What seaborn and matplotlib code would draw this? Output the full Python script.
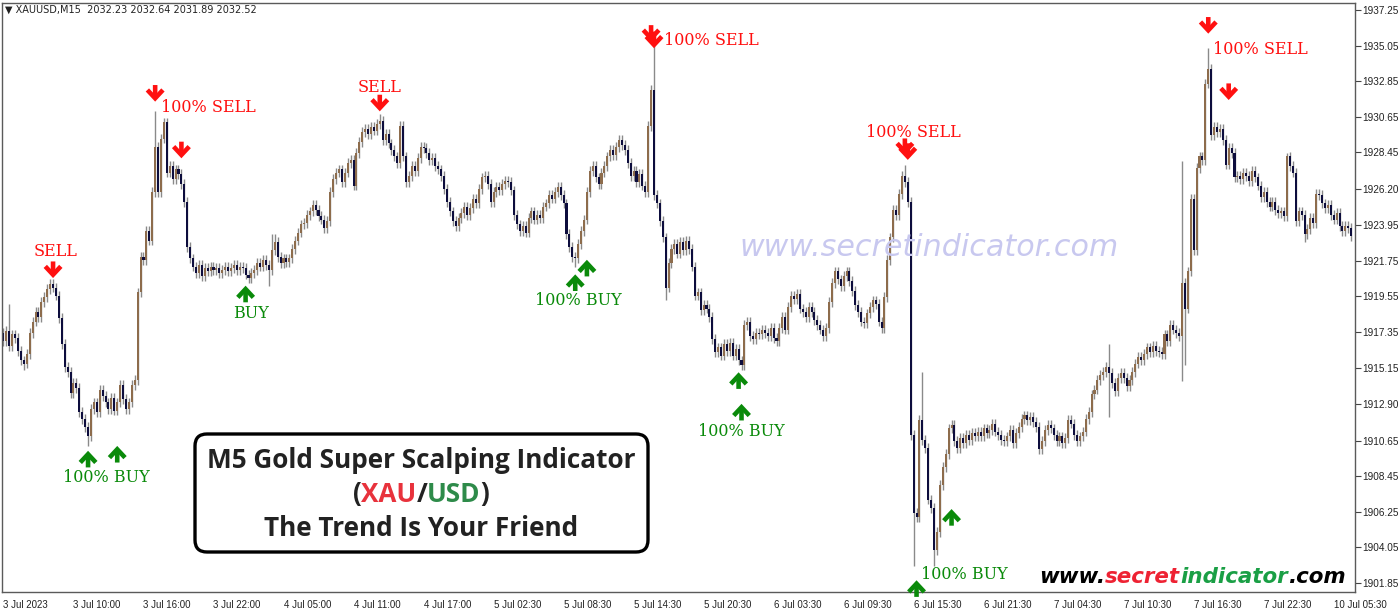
import matplotlib
matplotlib.use("Agg")
import matplotlib.pyplot as plt
import seaborn as sns
import pandas as pd
from matplotlib.patches import FancyBboxPatch
from matplotlib.offsetbox import TextArea, HPacker, AnchoredOffsetbox

# ---- data ----
first_open = 1917.3
closes = [
    1916.8, 1917.4, 1916.5, 1917.2, 1917.0, 1916.2, 1915.6, 1915.4, 1916.0, 1917.3,
    1918.0, 1918.6, 1918.3, 1919.2, 1919.5, 1920.0, 1920.3, 1920.1, 1919.6, 1918.2,
    1916.6, 1915.2, 1914.9, 1913.6, 1914.2, 1913.9, 1912.4, 1912.0, 1911.5, 1910.9,
    1912.6, 1913.0, 1912.4, 1913.8, 1913.4, 1913.0, 1912.6, 1913.3, 1912.5, 1913.0,
    1914.1, 1913.2, 1912.6, 1913.0, 1914.1, 1914.4, 1919.8, 1922.0, 1921.8, 1923.6,
    1923.0, 1926.0, 1928.8, 1926.0, 1929.3, 1930.3, 1927.2, 1927.6, 1926.8, 1927.4,
    1927.1, 1926.5, 1925.4, 1922.6, 1921.9, 1921.4, 1921.0, 1921.5, 1920.8, 1921.3,
    1921.1, 1921.4, 1921.2, 1921.3, 1921.0, 1921.2, 1921.4, 1921.1, 1921.3, 1921.5,
    1921.2, 1921.4, 1921.3, 1920.9, 1920.7, 1921.0, 1921.2, 1921.6, 1921.4, 1921.8,
    1921.5, 1921.2, 1922.4, 1922.9, 1922.0, 1921.6, 1921.9, 1921.7, 1921.9, 1922.5,
    1923.0, 1923.5, 1924.0, 1924.1, 1924.6, 1924.8, 1925.2, 1924.9, 1924.5, 1924.3,
    1923.8, 1924.2, 1926.0, 1926.8, 1927.2, 1927.4, 1926.6, 1927.2, 1927.8, 1928.0,
    1926.4, 1928.4, 1929.1, 1929.7, 1929.9, 1929.6, 1930.0, 1929.8, 1930.2, 1930.4,
    1929.2, 1929.6, 1929.0, 1928.6, 1928.2, 1927.8, 1930.1, 1928.2, 1926.6, 1927.0,
    1927.6, 1927.3, 1928.1, 1928.8, 1928.7, 1928.4, 1928.0, 1928.1, 1927.6, 1927.4,
    1927.0, 1926.2, 1925.4, 1924.8, 1924.2, 1923.9, 1924.4, 1924.7, 1925.1, 1924.6,
    1925.0, 1925.6, 1925.3, 1926.2, 1926.9, 1927.0, 1926.5, 1925.4, 1926.0, 1926.3,
    1926.1, 1926.5, 1926.7, 1926.6, 1926.1, 1924.6, 1924.0, 1923.6, 1923.9, 1923.5,
    1924.4, 1924.8, 1924.3, 1924.6, 1924.4, 1925.1, 1925.3, 1925.8, 1925.6, 1926.0,
    1926.3, 1925.8, 1925.3, 1923.4, 1922.6, 1922.0, 1921.9, 1922.8, 1923.6, 1924.3,
    1926.0, 1927.3, 1927.6, 1926.9, 1926.5, 1927.2, 1927.6, 1928.2, 1928.6, 1928.3,
    1928.8, 1929.2, 1928.9, 1928.6, 1927.8, 1927.0, 1927.3, 1926.6, 1927.1, 1926.4,
    1926.0, 1930.1, 1932.3, 1925.8, 1925.3, 1924.2, 1923.2, 1920.1, 1921.6, 1922.5,
    1922.8, 1922.2, 1922.9, 1922.4, 1923.0, 1922.5, 1921.4, 1919.6, 1919.8, 1918.7,
    1919.0, 1918.8, 1918.3, 1916.9, 1916.1, 1916.4, 1915.9, 1916.6, 1916.2, 1916.7,
    1915.9, 1916.3, 1915.6, 1915.3, 1917.8, 1918.0, 1917.1, 1916.9, 1917.3, 1917.2,
    1917.5, 1917.3, 1917.1, 1917.6, 1917.0, 1916.8, 1917.6, 1918.3, 1917.5, 1918.9,
    1919.6, 1919.4, 1919.7, 1918.8, 1918.6, 1918.3, 1918.9, 1918.6, 1918.1, 1917.8,
    1917.5, 1917.1, 1917.6, 1919.2, 1920.4, 1921.1, 1920.6, 1920.2, 1920.8, 1921.1,
    1920.5, 1919.9, 1919.0, 1918.6, 1918.0, 1917.9, 1918.5, 1918.9, 1919.3, 1919.1,
    1918.0, 1917.6, 1919.5, 1921.8, 1923.2, 1924.9, 1924.6, 1925.9, 1927.0, 1926.6,
    1925.4, 1911.0, 1906.2, 1905.9, 1911.9, 1910.7, 1910.2, 1907.0, 1906.5, 1903.9,
    1905.0, 1907.9, 1909.0, 1909.8, 1911.4, 1911.6, 1910.6, 1910.2, 1910.8, 1910.5,
    1911.0, 1910.7, 1911.1, 1910.9, 1911.2, 1910.9, 1911.4, 1911.1, 1911.3, 1911.7,
    1911.2, 1911.0, 1910.7, 1910.6, 1910.9, 1911.3, 1910.5, 1911.1, 1911.5, 1912.0,
    1912.2, 1911.9, 1912.1, 1911.8, 1911.5, 1910.1, 1910.6, 1911.3, 1911.6, 1911.4,
    1911.0, 1910.6, 1910.9, 1910.5, 1910.8, 1911.9, 1911.7, 1911.0, 1910.6, 1910.9,
    1911.2, 1912.0, 1912.4, 1913.5, 1913.8, 1914.4, 1914.7, 1914.9, 1915.2, 1914.8,
    1914.2, 1913.7, 1914.5, 1914.8, 1914.5, 1914.0, 1914.4, 1914.9, 1915.4, 1915.8,
    1915.6, 1916.0, 1916.4, 1916.1, 1916.5, 1916.2, 1916.1, 1916.0, 1917.2, 1916.8,
    1917.8, 1917.5, 1917.3, 1917.1, 1920.4, 1918.8, 1921.1, 1925.6, 1922.4, 1927.5,
    1928.2, 1928.0, 1932.7, 1933.6, 1929.5, 1930.0, 1929.7, 1929.9, 1929.2, 1927.7,
    1928.7, 1928.4, 1926.9, 1927.0, 1926.8, 1927.2, 1927.0, 1926.7, 1927.3, 1926.9,
    1926.4, 1925.7, 1926.0, 1925.4, 1925.1, 1925.4, 1924.9, 1924.7, 1924.8, 1924.5,
    1928.2, 1927.6, 1927.2, 1924.2, 1924.8, 1924.6, 1923.4, 1923.7, 1924.4, 1924.1,
    1925.9, 1925.8, 1925.3, 1925.0, 1925.2, 1924.6, 1924.3, 1924.7, 1923.9, 1923.6,
    1923.9, 1923.8, 1923.3,
]
# long wicks that stick out of the normal range
high_spikes = {2: 1919.1, 17: 1920.6, 52: 1931.0, 92: 1923.4, 93: 1923.4, 129: 1930.8,
               223: 1935.3, 309: 1927.7, 315: 1914.9, 379: 1916.6, 404: 1927.9,
               413: 1934.9, 440: 1928.4}
low_spikes = {7: 1915.0, 29: 1910.3, 83: 1920.6, 91: 1920.2, 196: 1921.4, 227: 1919.3,
              253: 1915.0, 312: 1902.9, 319: 1902.9, 379: 1912.1, 404: 1914.3,
              405: 1915.3, 446: 1922.9}

x_tick_bars = list(range(0, 457, 24))
x_tick_labels = ["3 Jul 2023", "3 Jul 10:00", "3 Jul 16:00", "3 Jul 22:00", "4 Jul 05:00",
                 "4 Jul 11:00", "4 Jul 17:00", "5 Jul 02:30", "5 Jul 08:30", "5 Jul 14:30",
                 "5 Jul 20:30", "6 Jul 03:30", "6 Jul 09:30", "6 Jul 15:30", "6 Jul 21:30",
                 "7 Jul 04:30", "7 Jul 10:30", "7 Jul 16:30", "7 Jul 22:30", "10 Jul 05:30"]
y_ticks = [1937.25, 1935.05, 1932.85, 1930.65, 1928.45, 1926.20, 1923.95, 1921.75, 1919.55,
           1917.35, 1915.15, 1912.90, 1910.65, 1908.45, 1906.25, 1904.05, 1901.85]

# indicator signals: bar, price where the arrow points, label
sell_bars = [17, 52, 61, 129, 222, 223, 309, 310, 413, 420]
sell_tips = [1920.6, 1931.5, 1928.0, 1930.9, 1935.2, 1934.8, 1928.2, 1927.9, 1935.7, 1931.6]
sell_labels = ["SELL", "100% SELL", "", "SELL", "", "100% SELL", "", "100% SELL", "100% SELL", ""]
buy_bars = [29, 39, 83, 196, 200, 252, 253, 313, 325]
buy_tips = [1910.1, 1910.4, 1920.3, 1921.0, 1921.9, 1914.95, 1913.0, 1902.1, 1906.5]
buy_labels = ["100% BUY", "", "BUY", "100% BUY", "", "", "100% BUY", "100% BUY", ""]

# label placement relative to the arrow tip (pixels)
sell_label_pos = [(3, 28, "center"), (6, -4, "left"), None, (0, 25, "center"), None,
                  (10, 9, "left"), None, (6, 29, "center"), (5, -14, "left"), None]
buy_label_pos = [(18, -28, "center"), None, (5, -29, "center"), (3, -28, "center"), None,
                 None, (0, -29, "center"), (4, 4, "left"), None]

# ---- build OHLC ----
df = pd.DataFrame({"close": closes})
df["bar"] = range(len(df))
df["open"] = df["close"].shift(1).fillna(first_open)
df["high"] = df[["open", "close"]].max(axis=1) + 0.3
df["low"] = df[["open", "close"]].min(axis=1) - 0.3
for b, v in high_spikes.items():
    df.loc[b, "high"] = v
for b, v in low_spikes.items():
    df.loc[b, "low"] = v
df["bull"] = df["close"] >= df["open"]

sns.set_theme(style="white")
plt.rcParams["font.family"] = ["DejaVu Sans"]

W, H = 1400, 616
fig = plt.figure(figsize=(W / 100, H / 100), dpi=100)
fig.patch.set_facecolor("white")
ax = fig.add_axes([2 / W, (H - 592) / H, (1355 - 2) / W, (592 - 3) / H])

bull_col, bear_col, wick_col = "#8d6c4c", "#0d0d3d", "#8a8a8a"
ax.vlines(df["bar"], df["low"], df["high"], color=wick_col, lw=1, zorder=1)
body_h = (df["close"] - df["open"]).abs().clip(lower=0.06)
body_b = df[["open", "close"]].min(axis=1)
ax.bar(df["bar"], body_h, bottom=body_b, width=0.7,
       color=[bull_col if b else bear_col for b in df["bull"]], lw=0, zorder=2)

ax.set_xlim(-0.5, 463.3)
ax.set_ylim(1901.29, 1937.68)
ax.set_xticks(x_tick_bars)
ax.set_xticklabels(x_tick_labels, ha="left", fontsize=7, family="Liberation Sans", color="#222222")
ax.yaxis.tick_right()
ax.set_yticks(y_ticks)
ax.set_yticklabels([f"{v:.2f}" for v in y_ticks], fontsize=7.2, family="Liberation Sans", color="#222222")
ax.tick_params(axis="both", direction="out", length=4, width=0.8, color="#444444", pad=1)
ax.tick_params(axis="x", pad=2)
for s in ax.spines.values():
    s.set_color("#5a5a5a")
    s.set_linewidth(1)
ax.grid(False)

# ---- signal arrows ----
red, green = "#ff1010", "#0a8a0a"
label_font = dict(family="DejaVu Serif", fontsize=11.5)


def arrow(bar, tip, color, up):
    ax.annotate("", xy=(bar, tip), xytext=(0, -18 if up else 18), textcoords="offset pixels",
                arrowprops=dict(arrowstyle="->,head_width=0.28,head_length=0.3", lw=3.3,
                                color=color, mutation_scale=20, shrinkA=0, shrinkB=1,
                                joinstyle="miter", capstyle="butt"),
                annotation_clip=False, zorder=5)


for bar, tip, lab, pos in zip(sell_bars, sell_tips, sell_labels, sell_label_pos):
    arrow(bar, tip, red, False)
    if lab:
        dx, dy, ha = pos
        ax.annotate(lab, xy=(bar, tip), xytext=(dx, dy), textcoords="offset pixels",
                    ha=ha, va="center", color=red, **label_font)

for bar, tip, lab, pos in zip(buy_bars, buy_tips, buy_labels, buy_label_pos):
    arrow(bar, tip, green, True)
    if lab:
        dx, dy, ha = pos
        ax.annotate(lab, xy=(bar, tip), xytext=(dx, dy), textcoords="offset pixels",
                    ha=ha, va="center", color=green, annotation_clip=False, **label_font)

# ---- header, watermark, title box, logo ----
fig.text(5 / W, 1 - 10 / H, "\u25bc XAUUSD,M15  2032.23 2032.64 2031.89 2032.52",
         fontsize=7, va="center", color="#222222")
fig.text(929 / W, 1 - 248 / H, "www.secretindicator.com", fontsize=21.7, style="italic",
         color="#c8c8ef", ha="center", va="center")

box = FancyBboxPatch((195 / 100, (H - 552) / 100), 453 / 100, 118 / 100,
                     boxstyle="round,pad=0,rounding_size=0.12", transform=fig.dpi_scale_trans,
                     facecolor="white", edgecolor="black", lw=2.4, zorder=10)
fig.add_artist(box)
box_font = dict(family="Open Sans", fontweight="bold", fontsize=18.8)


def colored_line(parts, cx, cy, font):
    areas = [TextArea(s, textprops=dict(color=c, **font)) for s, c in parts]
    pack = HPacker(children=areas, align="baseline", pad=0, sep=0)
    anc = AnchoredOffsetbox(loc="center", child=pack, pad=0, borderpad=0, frameon=False,
                            bbox_to_anchor=(cx / W, 1 - cy / H), bbox_transform=fig.transFigure)
    anc.set_zorder(11)
    fig.add_artist(anc)


colored_line([("M5 Gold Super Scalping Indicator", "#222222")], 421, 460, box_font)
colored_line([("(", "#222222"), ("XAU", "#e8323c"), ("/", "#222222"), ("USD", "#2e8b4a"),
              (")", "#222222")], 421, 494, box_font)
colored_line([("The Trend Is Your Friend", "#222222")], 421, 529, box_font)

logo_font = dict(family="DejaVu Sans", fontweight="bold", style="italic", fontsize=15.4)
colored_line([("www.", "#000000"), ("secret", "#ee2233"), ("indicator", "#1a9f45"),
              (".com", "#000000")], 1192, 577, logo_font)

fig.savefig("out.png", dpi=100)
